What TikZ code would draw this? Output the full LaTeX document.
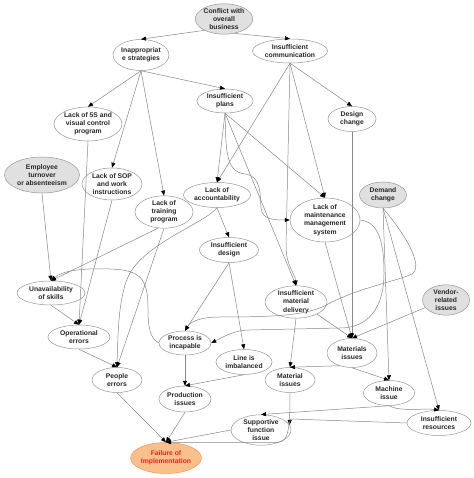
\documentclass[tikz,border=0pt]{standalone}
\usepackage{fontspec}
\setmainfont{Liberation Sans}
\usetikzlibrary{shapes.geometric,arrows.meta}
\definecolor{edgegray}{RGB}{135,135,135}
\definecolor{bordergray}{RGB}{150,150,150}
\definecolor{srcfill}{RGB}{224,224,224}
\definecolor{failfill}{RGB}{250,192,140}
\definecolor{failborder}{RGB}{240,150,90}
\definecolor{failtext}{RGB}{230,40,30}
\tikzset{
  box/.style={ellipse, draw=bordergray, line width=0.5pt, inner sep=0pt,
    align=center, font=\fontsize{6.8}{8.3}\selectfont\bfseries, text=black!85},
  srcbox/.style={box, fill=srcfill},
  failbox/.style={box, fill=failfill, draw=failborder, text=failtext},
  e/.style={draw=edgegray, line width=0.5pt,
    -{Triangle[length=5pt,width=4pt,color=black]}},
}
\begin{document}
\begin{tikzpicture}[x=1bp,y=1bp]
\fill[white] (0,0) rectangle (474,478);
\useasboundingbox (0,0) rectangle (474,478);
% nodes
\node[srcbox, minimum width=55bp, minimum height=30bp] (conf) at (224,459) {Conflict with\\overall\\business};
\node[box, minimum width=56bp, minimum height=31bp] (strat) at (141,423) {Inappropriat\\e strategies};
\node[box, minimum width=75bp, minimum height=24bp] (comm) at (290,427) {Insufficient\\communication};
\node[box, minimum width=56bp, minimum height=24bp] (plans) at (225,377) {Insufficient\\plans};
\node[box, minimum width=48bp, minimum height=25bp] (dchg) at (352,359) {Design\\change};
\node[box, minimum width=68bp, minimum height=34bp] (fives) at (88,354) {Lack of 5S and\\visual control\\program};
\node[srcbox, minimum width=75bp, minimum height=36bp] (emp) at (42,303) {Employee\\turnover\\or absenteeism};
\node[box, minimum width=60bp, minimum height=32bp] (sop) at (112,294) {Lack of SOP\\and work\\instructions};
\node[box, minimum width=58bp, minimum height=25bp] (train) at (164,266) {Lack of\\training\\program};
\node[box, minimum width=67bp, minimum height=25bp] (acc) at (217,283) {Lack of\\accountability};
\node[box, minimum width=70bp, minimum height=34bp] (maint) at (325,258) {Lack of\\maintenance\\management\\system};
\node[srcbox, minimum width=47bp, minimum height=26bp] (demand) at (383,283) {Demand\\change};
\node[box, minimum width=59bp, minimum height=25bp] (idesign) at (229,228) {Insufficient\\design};
\node[box, minimum width=68bp, minimum height=24bp] (unav) at (51,185) {Unavailability\\of skills};
\node[box, minimum width=62bp, minimum height=29bp] (deliv) at (296,176) {Insufficient\\material\\delivery};
\node[srcbox, minimum width=47bp, minimum height=30bp] (vendor) at (446,178) {Vendor-\\related\\issues};
\node[box, minimum width=62bp, minimum height=24bp] (operr) at (79,141) {Operational\\errors};
\node[box, minimum width=52bp, minimum height=24bp] (proc) at (185,135) {Process is\\incapable};
\node[box, minimum width=56bp, minimum height=25bp] (lineimb) at (244,116) {Line is\\imbalanced};
\node[box, minimum width=50bp, minimum height=29bp] (matsi) at (352,125) {Materials\\issues};
\node[box, minimum width=50bp, minimum height=25bp] (people) at (117,98) {People\\errors};
\node[box, minimum width=52bp, minimum height=26bp] (prod) at (185,79) {Production\\issues};
\node[box, minimum width=50bp, minimum height=25bp] (mati) at (290,98) {Material\\issues};
\node[box, minimum width=51bp, minimum height=25bp] (mach) at (389,85) {Machine\\issue};
\node[box, minimum width=64bp, minimum height=25bp] (res) at (439,55) {Insufficient\\resources};
\node[box, minimum width=60bp, minimum height=28bp] (supp) at (261,48) {Supportive\\function\\issue};
\node[failbox, minimum width=68bp, minimum height=31bp] (fail) at (166,20) {Failure of\\Implementation};
% edges
\draw[e] (conf.-150) -- (strat.north);
\draw[e] (conf.-54) -- (comm.north);
\draw[e] (strat.south) -- (plans.north);
\draw[e] (strat.south) -- (fives.north);
\draw[e] (strat.south) -- (sop.north);
\draw[e] (strat.south) -- (train.north);
\draw[e] (comm.south) -- (dchg.north);
\draw[e] (comm.south) -- (acc.north);
\draw[e] (comm.south) -- (maint.north);
\draw[e] (comm.south) -- (286,232) .. controls (286,212) and (295,205) .. (deliv.north);
\draw[e] (plans.south) -- (acc.north);
\draw[e] (plans.south) -- (maint.north);
\draw[e] (plans.south) .. controls (226,330) and (225,306) .. (245,304) .. controls (262,302) and (260,282) .. (261,270) .. controls (262,258) and (275,258) .. (maint.west);
\draw[e] (plans.south) -- (deliv.north);
\draw[e] (dchg.south) -- (matsi.north);
\draw[e] (fives.south) -- (operr.north);
\draw[e] (emp.south) -- (unav.north);
\draw[e] (sop.south) -- (operr.north);
\draw[e] (train.250) -- (unav.north);
\draw[e] (train.south) -- (people.north);
\draw[e] (acc.south) -- (idesign.north);
\draw[e] (acc.south) .. controls (205,255) and (148,236) .. (130,205) .. controls (119,185) and (118,150) .. (people.north);
\draw[e] (maint.south) -- (matsi.north);
\draw[e] (maint.east) .. controls (380,256) and (384,232) .. (384,205) .. controls (384,170) and (368,150) .. (340,150) -- (250,148) .. controls (235,148) and (225,142) .. (proc.east);
\draw[e] (demand.south) .. controls (400,250) and (428,210) .. (410,203) .. controls (392,196) and (360,190) .. (330,175) .. controls (310,163) and (280,161) .. (220,161) .. controls (200,161) and (190,156) .. (proc.north);
\draw[e] (demand.south) -- (mach.north);
\draw[e] (demand.south) -- (res.north);
\draw[e] (idesign.south) -- (proc.north);
\draw[e] (idesign.south) -- (lineimb.north);
\draw[e] (unav.south) -- (operr.north);
\draw[e] (proc.west) .. controls (150,140) and (148,150) .. (148,170) .. controls (148,200) and (140,208) .. (110,209) .. controls (80,210) and (62,207) .. (unav.north);
\draw[e] (deliv.south) -- (mati.north);
\draw[e] (deliv.-30) -- (matsi.north);
\draw[e] (vendor.200) -- (matsi.north);
\draw[e] (operr.south) -- (people.north);
\draw[e] (proc.south) -- (prod.north);
\draw[e] (lineimb.south) -- (prod.north);
\draw[e] (matsi.225) -- (mati.north);
\draw[e] (matsi.south) -- (mach.north);
\draw[e] (people.south) -- (fail.north);
\draw[e] (prod.south) -- (fail.north);
\draw[e] (mati.south) -- (supp.10);
\draw[e] (mach.south) -- (supp.north);
\draw[e] (mach.south) .. controls (400,66) and (425,70) .. (res.north);
\draw[e] (res.west) -- (291,59) .. controls (287,56) and (291,37) .. (278,35.5) -- (fail.north);
\draw[e] (supp.west) -- (fail.north);
\end{tikzpicture}
\end{document}
